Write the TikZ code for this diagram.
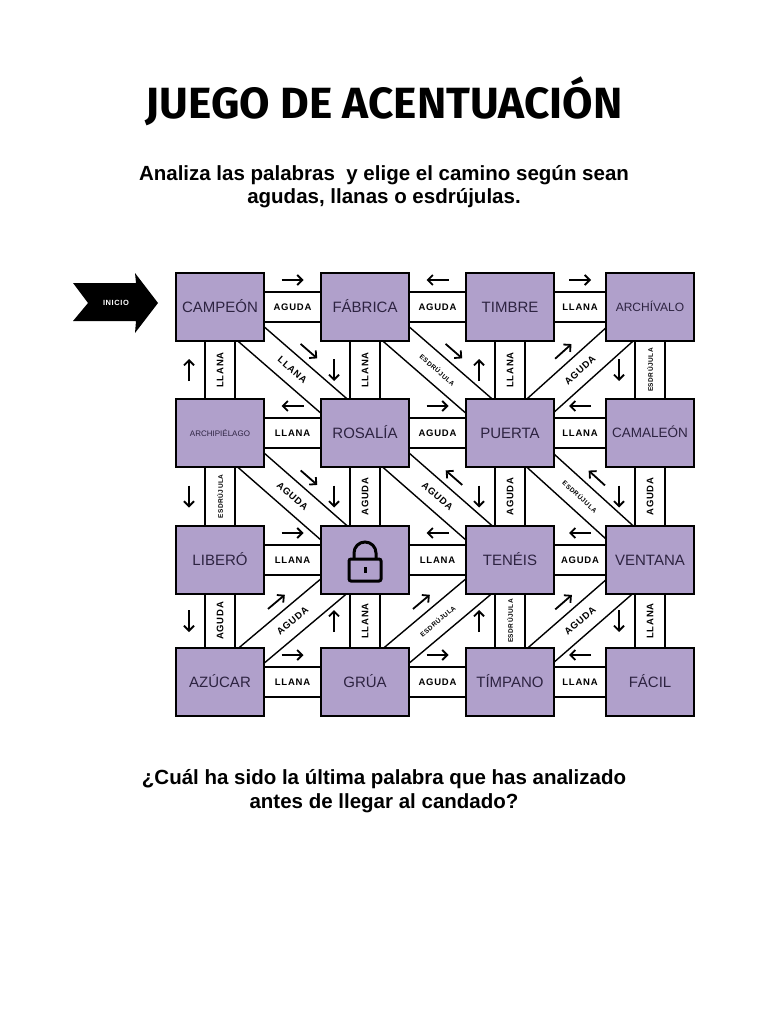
\documentclass[tikz,border=0pt]{standalone}
\usepackage{fontspec}
\setmainfont{Liberation Sans}
\newfontfamily\lab[LetterSpace=8]{Liberation Sans Bold}
\newfontfamily\titlefont{Fira Sans}
\usetikzlibrary{calc,arrows.meta}
\definecolor{boxfill}{RGB}{176,160,203}
\definecolor{boxtext}{RGB}{45,35,65}
\tikzset{
  word/.style={draw=black,line width=2.6pt,fill=boxfill,minimum width=88pt,minimum height=68pt,inner sep=0pt,text=boxtext,text height=10.5pt,text depth=0pt,font=\fontsize{15}{15}\selectfont},
  strip/.style={draw=black,line width=1.4pt,fill=white},
  dline/.style={draw=black,line width=1.4pt},
  slab/.style={font=\lab\fontsize{9.5}{9.5}\selectfont,inner sep=0pt},
  slabs/.style={font=\lab\fontsize{6.5}{6.5}\selectfont,inner sep=0pt},
  arr/.style={line width=1.8pt,-{Straight Barb[length=5pt,width=10pt,line width=1.8pt]}},
}
\newcommand{\hcon}[4]{%
  \draw[strip] ($(#1)+(0,-15)$) rectangle ($(#2)+(15,15)$);
  \node[slab] at ($(#1)!0.5!(#2)$) {#3};
  \coordinate (hm) at ($(#1)!0.5!(#2)+(0,-27)$);
  \draw[arr] ($(hm)+(-11*#4,0)$) -- ($(hm)+(11*#4,0)$);}
\newcommand{\vcon}[5]{%
  \draw[strip] ($(#1)+(-15,0)$) rectangle ($(#2)+(15,0)$);
  \node[#4,rotate=90] at ($(#1)!0.5!(#2)$) {#3};
  \coordinate (vm) at ($(#1)!0.5!(#2)+(-31,0)$);
  \draw[arr] ($(vm)+(0,-11*#5)$) -- ($(vm)+(0,11*#5)$);}
\newcommand{\dcon}[5]{%
  \draw[dline] ($(#1)!14pt!90:(#2)$) -- ($(#2)!14pt!-90:(#1)$);
  \draw[dline] ($(#1)!14pt!-90:(#2)$) -- ($(#2)!14pt!90:(#1)$);
  \path (#1) -- (#2) node[midway,sloped,#4] {#3};
  \coordinate (dm) at ($(#1)!0.5!(#2)$);
  \coordinate (dp) at ($(dm)!25pt!90:(#2)$);
  \coordinate (dq) at ($(dp)+(#2)-(#1)$);
  \draw[arr] ($(dp)!-11pt*#5!(dq)$) -- ($(dp)!11pt*#5!(dq)$);}
\begin{document}
\begin{tikzpicture}[x=1pt,y=-1pt]
\useasboundingbox[fill=white] (0,0) rectangle (768,1024);
\node[font=\titlefont\bfseries\fontsize{46}{46}\selectfont,inner sep=0pt] (title) at (384,101) {\scalebox{0.96}[0.95]{JUEGO DE ACENTUACIÓN}};
\node[font=\bfseries\fontsize{20.5}{23}\selectfont,align=center,inner sep=0pt] (sub) at (384,187) {Analiza las palabras \ y elige el camino según sean\\agudas, llanas o esdrújulas.};
\node[font=\bfseries\fontsize{20.5}{24}\selectfont,align=center,inner sep=0pt] (q) at (384,791) {¿Cuál ha sido la última palabra que has analizado\\antes de llegar al candado?};
\coordinate (c11) at (220,307); \coordinate (c12) at (365,307); \coordinate (c13) at (510,307); \coordinate (c14) at (650,307);
\coordinate (c21) at (220,433); \coordinate (c22) at (365,433); \coordinate (c23) at (510,433); \coordinate (c24) at (650,433);
\coordinate (c31) at (220,560); \coordinate (c32) at (365,560); \coordinate (c33) at (510,560); \coordinate (c34) at (650,560);
\coordinate (c41) at (220,682); \coordinate (c42) at (365,682); \coordinate (c43) at (510,682); \coordinate (c44) at (650,682);
\hcon{c11}{c12}{AGUDA}{1}
\hcon{c12}{c13}{AGUDA}{-1}
\hcon{c13}{c14}{LLANA}{1}
\hcon{c21}{c22}{LLANA}{-1}
\hcon{c22}{c23}{AGUDA}{1}
\hcon{c23}{c24}{LLANA}{-1}
\hcon{c31}{c32}{LLANA}{1}
\hcon{c32}{c33}{LLANA}{-1}
\hcon{c33}{c34}{AGUDA}{-1}
\hcon{c41}{c42}{LLANA}{1}
\hcon{c42}{c43}{AGUDA}{1}
\hcon{c43}{c44}{LLANA}{-1}
\vcon{c11}{c21}{LLANA}{slab}{-1}
\vcon{c21}{c31}{ESDRÚJULA}{slabs}{1}
\vcon{c31}{c41}{AGUDA}{slab}{1}
\vcon{c12}{c22}{LLANA}{slab}{1}
\vcon{c22}{c32}{AGUDA}{slab}{1}
\vcon{c32}{c42}{LLANA}{slab}{-1}
\vcon{c13}{c23}{LLANA}{slab}{-1}
\vcon{c23}{c33}{AGUDA}{slab}{1}
\vcon{c33}{c43}{ESDRÚJULA}{slabs}{-1}
\vcon{c14}{c24}{ESDRÚJULA}{slabs}{1}
\vcon{c24}{c34}{AGUDA}{slab}{1}
\vcon{c34}{c44}{LLANA}{slab}{1}
\dcon{c11}{c22}{LLANA}{slab}{1}
\dcon{c12}{c23}{ESDRÚJULA}{slabs}{1}
\dcon{c23}{c14}{AGUDA}{slab}{1}
\dcon{c21}{c32}{AGUDA}{slab}{1}
\dcon{c22}{c33}{AGUDA}{slab}{-1}
\dcon{c23}{c34}{ESDRÚJULA}{slabs}{-1}
\dcon{c41}{c32}{AGUDA}{slab}{1}
\dcon{c42}{c33}{ESDRÚJULA}{slabs}{1}
\dcon{c43}{c34}{AGUDA}{slab}{1}
\node[word] (b11) at (c11) {CAMPEÓN};
\node[word] (b12) at (c12) {FÁBRICA};
\node[word] (b13) at (c13) {TIMBRE};
\node[word,font=\fontsize{12}{12}\selectfont,text height=8.5pt] (b14) at (c14) {ARCHÍVALO};
\node[word,font=\fontsize{8}{8}\selectfont,text height=6pt] (b21) at (c21) {ARCHIPIÉLAGO};
\node[word] (b22) at (c22) {ROSALÍA};
\node[word] (b23) at (c23) {PUERTA};
\node[word,font=\fontsize{13.5}{13.5}\selectfont,text height=9.5pt] (b24) at (c24) {CAMALEÓN};
\node[word] (b31) at (c31) {LIBERÓ};
\node[word] (b32) at (c32) {};
\node[word] (b33) at (c33) {TENÉIS};
\node[word] (b34) at (c34) {VENTANA};
\node[word] (b41) at (c41) {AZÚCAR};
\node[word] (b42) at (c42) {GRÚA};
\node[word] (b43) at (c43) {TÍMPANO};
\node[word] (b44) at (c44) {FÁCIL};
\draw[line width=3pt] ($(b32)+(-11,-1)$) -- ($(b32)+(-11,-7)$) arc[start angle=180,end angle=360,radius=11] -- ($(b32)+(11,-1)$);
\draw[line width=3pt,rounded corners=2pt] ($(b32)+(-16,-1)$) rectangle ($(b32)+(16,21)$);
\draw[line width=3pt] ($(b32)+(0,7)$) -- ($(b32)+(0,13)$);
\fill[black] (73,283) -- (136,283) -- (135,273) -- (158,303) -- (135,333) -- (136,321) -- (73,321) -- (88,303) -- cycle;
\node[text=white,font=\lab\fontsize{7.5}{7.5}\selectfont,inner sep=0pt] (inicio) at (116,303) {INICIO};
\end{tikzpicture}
\end{document}
